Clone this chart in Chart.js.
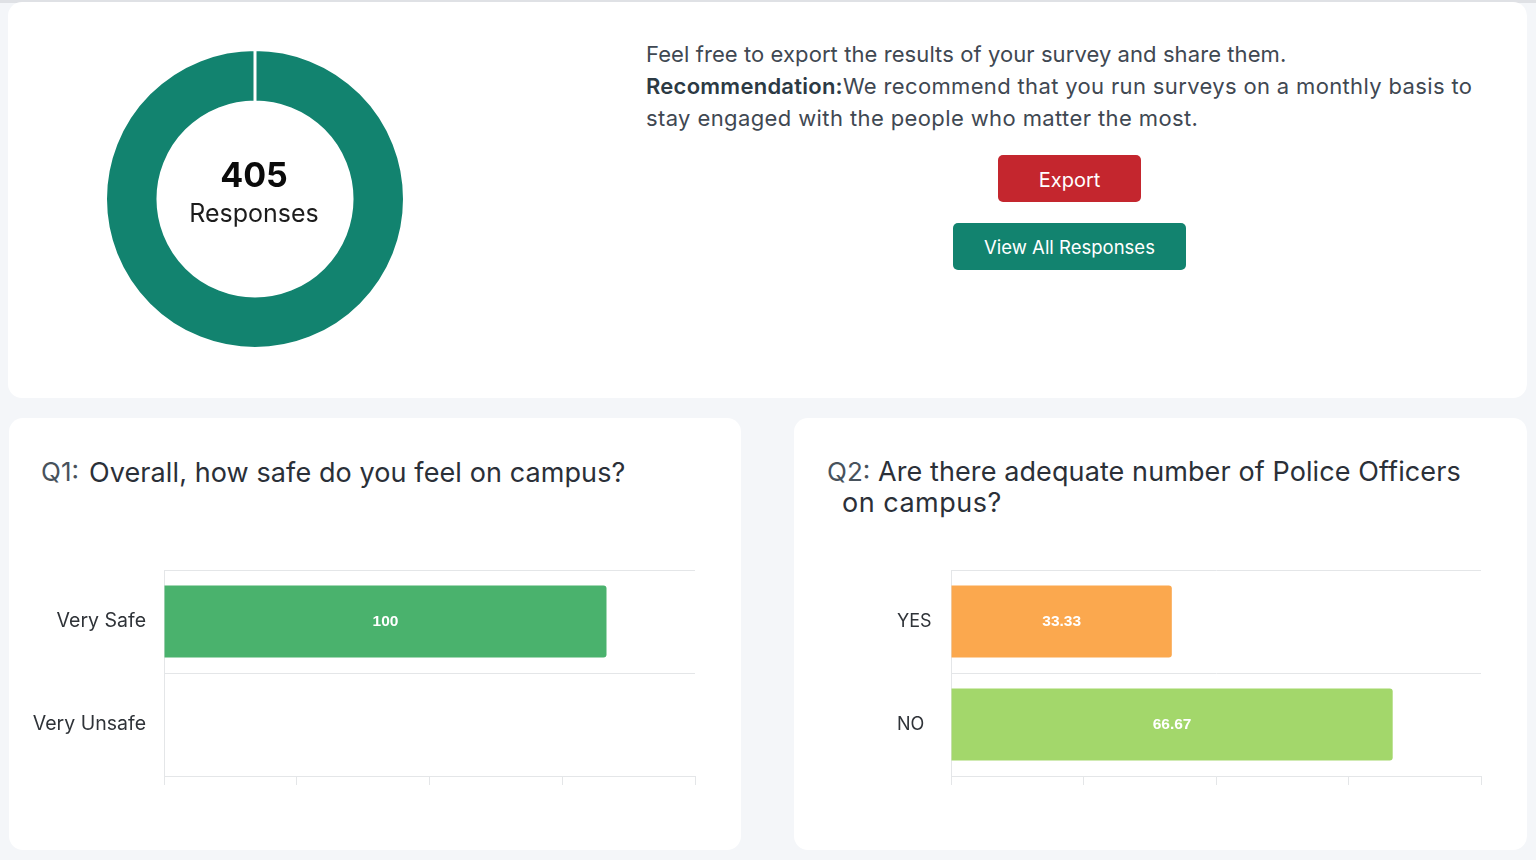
<!DOCTYPE html>
<html>
<head>
<meta charset="utf-8">
<title>Survey results</title>
<script src="https://cdn.jsdelivr.net/npm/chart.js@4"></script>
<style>
  html, body { margin: 0; padding: 0; width: 1536px; height: 860px; overflow: hidden; background: #f4f6f9; font-family: Inter, "Open Sans", sans-serif; }
  .topshade { position: absolute; left: 0; top: 0; width: 1536px; height: 3px; background: #dfe1e5; }
  .card { position: absolute; background: #fff; border-radius: 14px; }
  .txt { position: absolute; white-space: nowrap; }
  canvas { position: absolute; }
  .line { left: 646px; font-size: 22px; line-height: 32px; color: #3f4852; }
  .line b { color: #2c3a44; font-weight: 600; letter-spacing: 0.25px; }
  .btn { position: absolute; border-radius: 5px; color: #fff; text-align: center; }
  .title { font-size: 27px; line-height: 32px; color: #2b3038; letter-spacing: 0.1px; }
  .title .q { color: #48525c; font-size: 26px; letter-spacing: 0; }
</style>
</head>
<body>
<div class="topshade"></div>
<div class="card" style="left:8px;top:2px;width:1519px;height:396px"></div>
<div class="card" style="left:9px;top:418px;width:732px;height:432px"></div>
<div class="card" style="left:794px;top:418px;width:733px;height:432px"></div>

<canvas id="donut" width="320" height="320" style="left:95px;top:39px"></canvas>
<div class="txt" style="left:154px;width:200px;top:154px;text-align:center;font-size:34px;line-height:42px;font-weight:700;color:#0b0b0b">405</div>
<div class="txt" style="left:154px;width:200px;top:197px;text-align:center;font-size:25px;line-height:32px;color:#1c1c1c">Responses</div>

<div class="txt line" style="top:38px;letter-spacing:0.08px">Feel free to export the results of your survey and share them.</div>
<div class="txt line" style="top:70px;letter-spacing:0.35px"><b>Recommendation:</b>We recommend that you run surveys on a monthly basis to</div>
<div class="txt line" style="top:102px;letter-spacing:0.39px">stay engaged with the people who matter the most.</div>
<div class="btn" style="left:998px;top:155px;width:143px;height:47px;line-height:50px;background:#c4262e;font-size:20px">Export</div>
<div class="btn" style="left:953px;top:223px;width:233px;height:47px;line-height:48px;background:#12836f;font-size:18.5px">View All Responses</div>

<div class="txt title" style="left:41px;top:456px"><span class="q">Q1:</span></div>
<div class="txt title" style="left:89px;top:457px">Overall, how safe do you feel on campus?</div>
<div class="txt title" style="left:827px;top:456px"><span class="q">Q2:</span> Are there adequate number of Police Officers</div>
<div class="txt title" style="left:842px;top:487px;letter-spacing:0.5px">on campus?</div>

<canvas id="q1" width="677" height="225" style="left:20px;top:560px"></canvas>
<canvas id="q2" width="599" height="225" style="left:897px;top:560px"></canvas>

<script>
// Datos de la encuesta
const responseValues = [405];
const q1Labels = ["Very Safe", "Very Unsafe"];
const q1Values = [100, 0];
const q2Labels = ["YES", "NO"];
const q2Values = [33.33, 66.67];

const tickColor = "#2f3338";
const gridColor = "#e4e6e8";

// Escribe el valor en el centro de cada barra
const barValues = {
    id: "barValues",
    afterDatasetsDraw(chart) {
        const ctx = chart.ctx;
        const meta = chart.getDatasetMeta(0);
        ctx.save();
        ctx.fillStyle = "#ffffff";
        ctx.font = "bold 15.5px 'Liberation Sans'";
        ctx.textAlign = "center";
        ctx.textBaseline = "middle";
        meta.data.forEach((bar, i) => {
            const value = chart.data.datasets[0].data[i];
            if (!value) return;
            ctx.fillText(String(value), (bar.x + bar.base) / 2, bar.y);
        });
        ctx.restore();
    }
};

function drawBars(id, labels, values, colors, maxValue, axisWidth, tickFont, crossAlign, rightPad) {
    new Chart(document.getElementById(id), {
        type: "bar",
        data: {
            labels: labels,
            datasets: [{
                data: values,
                backgroundColor: colors,
                borderRadius: 3,
                categoryPercentage: 1,
                barPercentage: 0.7
            }]
        },
        options: {
            indexAxis: "y",
            responsive: false,
            animation: false,
            layout: { padding: { top: 10, right: rightPad } },
            plugins: { legend: { display: false }, tooltip: { enabled: false } },
            scales: {
                x: {
                    min: 0,
                    max: maxValue,
                    ticks: { stepSize: maxValue / 4, display: false },
                    grid: { drawOnChartArea: false, color: gridColor, tickLength: 9 },
                    border: { color: gridColor },
                    afterFit(axis) { axis.height = 9; }
                },
                y: {
                    ticks: {
                        color: tickColor,
                        font: { family: "Inter", size: tickFont },
                        padding: 18,
                        crossAlign: crossAlign
                    },
                    grid: { color: gridColor, drawTicks: false },
                    border: { color: gridColor },
                    afterFit(axis) {
                        axis.width = axisWidth;
                        axis.paddingTop = 0;
                        axis.paddingBottom = 0;
                    }
                }
            }
        },
        plugins: [barValues]
    });
}

new Chart(document.getElementById("donut"), {
    type: "doughnut",
    data: {
        labels: ["Responses"],
        datasets: [{
            data: responseValues,
            backgroundColor: ["#12836f"],
            borderColor: "#ffffff",
            borderWidth: 3
        }]
    },
    options: {
        responsive: false,
        animation: false,
        cutout: "64.9%",
        layout: { padding: 9 },
        plugins: { legend: { display: false }, tooltip: { enabled: false } }
    }
});

drawBars("q1", q1Labels, q1Values, ["#4ab26d", "#4ab26d"], 120, 144, 19.5, "near", 2);
drawBars("q2", q2Labels, q2Values, ["#fba84e", "#a3d76b"], 80, 54, 18, "far", 15);
</script>
</body>
</html>
